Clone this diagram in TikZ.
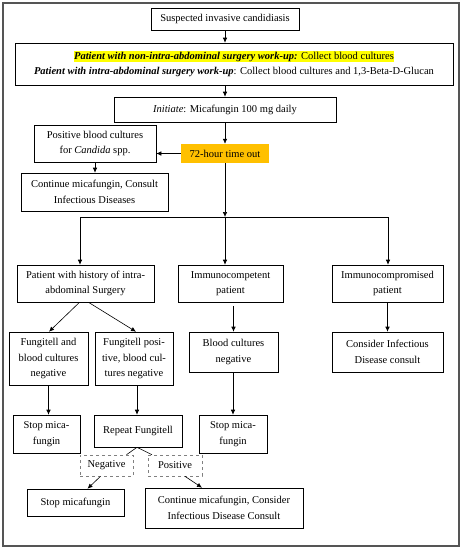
\documentclass[tikz,border=0pt]{standalone}
\usepackage{fontspec}
\setmainfont{Liberation Serif}
\usetikzlibrary{arrows.meta}
\definecolor{hl}{HTML}{FFFF00}
\definecolor{orng}{HTML}{FFC000}
\definecolor{frame}{HTML}{555555}
\begin{document}
\begin{tikzpicture}[x=1pt,y=-1pt,
  every node/.style={font=\fontsize{10.5}{15.5}\selectfont},
  box/.style={draw, line width=0.6pt, align=center, inner sep=1pt},
  dbox/.style={draw=gray, dashed, line width=0.6pt, align=center, inner sep=1pt},
  arr/.style={-{Latex[length=5pt,width=4.5pt]}, line width=0.6pt},
  ln/.style={line width=0.6pt}]
\useasboundingbox (0,0) rectangle (462,550);
\draw[frame, line width=1.2pt] (3,3) rectangle (459,546);

\node[box, minimum width=148pt, minimum height=22pt] (b1) at (225,19) {Suspected invasive candidiasis};
\node[box, minimum width=438pt, minimum height=42pt] (b2) at (234,64)
  {{\setlength{\fboxsep}{0.5pt}\colorbox{hl}{\textbf{\textit{Patient with non-intra-abdominal surgery work-up:}} Collect blood cultures}}\\
   \textbf{\textit{Patient with intra-abdominal surgery work-up}}: Collect blood cultures and 1,3-Beta-D-Glucan};
\node[box, minimum width=222pt, minimum height=25pt] (b3) at (225,109.5) {\textit{Initiate}: Micafungin 100 mg daily};
\node[box, minimum width=122pt, minimum height=37pt] (b4) at (95,143.5) {Positive blood cultures\\for \textit{Candida} spp.};
\node[fill=orng, minimum width=88pt, minimum height=19pt, inner sep=1pt] (b5) at (225,153.5) {72-hour time out};
\node[box, minimum width=147pt, minimum height=38pt] (b6) at (94.5,192) {Continue micafungin, Consult\\Infectious Diseases};

\node[box, minimum width=137pt, minimum height=37pt] (b7) at (85.5,283.5) {Patient with history of intra-\\abdominal Surgery};
\node[box, minimum width=105pt, minimum height=37pt] (b8) at (230.5,283.5) {Immunocompetent\\patient};
\node[box, minimum width=111pt, minimum height=37pt] (b9) at (387.5,283.5) {Immunocompromised\\patient};

\node[box, minimum width=79pt, minimum height=53pt] (b10) at (48.5,358.5) {Fungitell and\\blood cultures\\negative};
\node[box, minimum width=78pt, minimum height=53pt] (b11) at (134,358.5) {Fungitell posi-\\tive, blood cul-\\tures negative};
\node[box, minimum width=89pt, minimum height=40pt] (b12) at (233.5,352) {Blood cultures\\negative};
\node[box, minimum width=111pt, minimum height=40pt] (b13) at (387.5,352) {Consider Infectious\\Disease consult};

\node[box, minimum width=67pt, minimum height=38pt] (b14) at (46.5,434) {Stop mica-\\fungin};
\node[box, minimum width=88pt, minimum height=32pt] (b15) at (138,431) {Repeat Fungitell};
\node[box, minimum width=68pt, minimum height=38pt] (b16) at (233,434) {Stop mica-\\fungin};

\node[dbox, minimum width=53pt, minimum height=21pt] (b17) at (106.5,465.5) {Negative};
\node[dbox, minimum width=54pt, minimum height=21pt] (b18) at (175,465.5) {Positive};

\node[box, minimum width=97pt, minimum height=27pt] (b19) at (75.5,502.5) {Stop micafungin};
\node[box, minimum width=158pt, minimum height=40pt] (b20) at (224,508) {Continue micafungin, Consider\\Infectious Disease Consult};

\coordinate (j1) at (80,217);
\coordinate (j2) at (225,217);
\coordinate (j3) at (388,217);

\draw[arr] (b1.south) -- (b2.north -| b1.south);
\draw[arr] (b2.south -| b3.north) -- (b3.north);
\draw[arr] (b3.south) -- (b5.north);
\draw[arr] (b5.west) -- (b5.west -| b4.east);
\draw[arr] (b4.south) -- (b6.north -| b4.south);
\draw[arr] (b5.south) -- (j2);
\draw[ln] (j1) -- (j3);
\draw[arr] (j1) -- (j1 |- b7.north);
\draw[arr] (j2) -- (j2 |- b8.north);
\draw[arr] (j3) -- (j3 |- b9.north);

\draw[arr] ([xshift=-6pt]b7.south) -- ([xshift=0.5pt]b10.north);
\draw[arr] ([xshift=3pt]b7.south) -- ([xshift=2pt]b11.north);
\draw[arr] ([yshift=-4pt]b12.north |- b8.south) -- (b12.north);
\draw[arr] (b13.north |- b9.south) -- (b13.north);

\draw[arr] (b10.south) -- (b10.south |- b14.north);
\draw[arr] ([xshift=3pt]b11.south) -- ([xshift=3pt]b11.south |- b15.north);
\draw[arr] (b16.north |- b12.south) -- (b16.north);

\draw[ln] ([xshift=-1pt]b15.south) -- ([xshift=20pt]b17.north);
\draw[ln] ([xshift=-1pt]b15.south) -- ([xshift=-23pt]b18.north);
\draw[arr] ([xshift=-6pt]b17.south) -- ([xshift=12pt]b19.north);
\draw[arr] ([xshift=10pt]b18.south) -- ([xshift=-22pt]b20.north);
\end{tikzpicture}
\end{document}
